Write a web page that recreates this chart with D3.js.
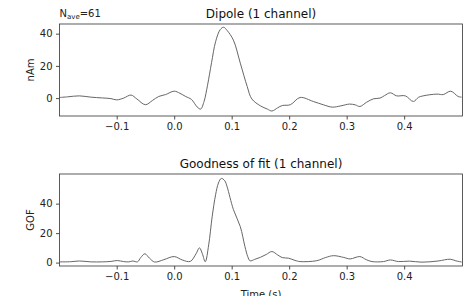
<!DOCTYPE html>
<html><head><meta charset="utf-8">
<script src="https://cdn.jsdelivr.net/npm/d3@7"></script>
<style>
html,body{margin:0;padding:0;background:#fff;}
svg{display:block;font-family:"DejaVu Sans",sans-serif;}
</style></head>
<body><svg id="c" width="474" height="296"></svg>
<script>
// ---- data ----
const dipoleTimes = [-0.199,-0.185,-0.165,-0.145,-0.125,-0.110,-0.100,-0.088,-0.075,-0.065,-0.050,-0.038,-0.027,-0.015,0.000,0.010,0.020,0.030,0.040,0.046,0.052,0.058,0.065,0.072,0.080,0.086,0.092,0.103,0.115,0.127,0.135,0.150,0.162,0.170,0.180,0.188,0.202,0.219,0.242,0.260,0.275,0.290,0.305,0.315,0.323,0.335,0.347,0.358,0.366,0.376,0.387,0.402,0.416,0.425,0.433,0.457,0.468,0.481,0.494,0.500];
const dipoleValues = [0.4,0.8,1.4,0.6,0.1,-0.3,-1.1,0.0,1.9,-0.5,-4.1,-1.5,1.0,2.2,4.3,3.0,1.0,-0.8,-5.5,-6.8,-2,8,22,35,42.5,44,42,36,21.7,7.2,-0.5,-4.8,-6.8,-8.0,-6.0,-4.6,-4.1,0.4,-2.1,-4.2,-5.6,-4.8,-3.7,-4.2,-5.2,-2.5,-0.4,0.0,1.6,3.3,1.4,1.4,-2.1,0.5,1.4,2.5,2.2,4.3,1.0,0.6];

const gofTimes = [-0.199,-0.180,-0.165,-0.145,-0.125,-0.110,-0.099,-0.088,-0.079,-0.072,-0.064,-0.058,-0.051,-0.043,-0.034,-0.018,0.000,0.014,0.028,0.038,0.044,0.049,0.054,0.060,0.066,0.072,0.077,0.082,0.088,0.092,0.103,0.115,0.123,0.128,0.132,0.140,0.150,0.160,0.170,0.180,0.188,0.199,0.210,0.219,0.248,0.263,0.277,0.295,0.306,0.323,0.334,0.344,0.364,0.376,0.390,0.409,0.431,0.459,0.480,0.490,0.500];
const gofValues = [0.5,0.6,1.1,0.5,0.5,0.8,1.4,0.7,0.5,1.1,0.5,3.5,6.0,3.0,0.4,2.0,4.1,1.8,0.8,6.0,10.0,6,0.6,12,31,46,54,57.1,55.5,51.5,36,24.4,11,4,1.2,2.2,3.6,5.5,7.5,5.2,3.4,3.0,1.5,0.7,1.3,3.4,4.7,3.5,2.5,4.1,2.0,0.7,0.7,1.8,0.7,1.0,0.3,1.1,2.3,1.2,0.4];

const xTicks = [-0.1,0.0,0.1,0.2,0.3,0.4];
const dipoleYTicks = [0,20,40];
const gofYTicks = [0,20,40];
const titles = ["Dipole (1 channel)", "Goodness of fit (1 channel)"];
const yLabels = ["nAm", "GOF"];
const xLabel = "Time (s)";
const nave = 61;

// ---- drawing ----
const svg = d3.select("#c");
const left = 59.5, right = 462.5;
const x = d3.scaleLinear().domain([-0.1995, 0.5015]).range([left, right]);

const panels = [
  {top:24, bottom:116, dom:[-11.1, 46], t:dipoleTimes, v:dipoleValues, yt:dipoleYTicks, title:titles[0], yl:yLabels[0]},
  {top:174, bottom:266, dom:[-2.3, 60.1], t:gofTimes, v:gofValues, yt:gofYTicks, title:titles[1], yl:yLabels[1]}
];

const fmt = d => d3.format(".1f")(d).replace("-", "\u2212");

panels.forEach((p, i) => {
  const y = d3.scaleLinear().domain(p.dom).range([p.bottom, p.top]);
  const g = svg.append("g");

  const clip = "clip" + i;
  svg.append("clipPath").attr("id", clip).append("rect")
    .attr("x", left).attr("y", p.top).attr("width", right-left).attr("height", p.bottom-p.top);

  const data = p.t.map((t, k) => [t, p.v[k]]);
  g.append("path").datum(data)
    .attr("clip-path", `url(#${clip})`)
    .attr("fill", "none").attr("stroke", "#666").attr("stroke-width", 1)
    .attr("d", d3.line().x(d => x(d[0])).y(d => y(d[1])).curve(d3.curveCatmullRom.alpha(0.5)));

  const xa = g.append("g").attr("transform", `translate(0,${p.bottom})`)
    .call(d3.axisBottom(x).tickValues(xTicks).tickFormat(fmt).tickSize(3.5).tickPadding(3.5));
  const ya = g.append("g").attr("transform", `translate(${left},0)`)
    .call(d3.axisLeft(y).tickValues(p.yt).tickFormat(d3.format("d")).tickSize(3.5).tickPadding(3.5));
  [xa, ya].forEach(a => {
    a.select(".domain").remove();
    a.selectAll("line").attr("stroke", "#222").attr("stroke-width", 0.8);
    a.selectAll("text").attr("font-size", 10).attr("fill", "#222").attr("font-family", "DejaVu Sans");
  });

  g.append("rect").attr("x", left).attr("y", p.top).attr("width", right-left).attr("height", p.bottom-p.top)
    .attr("fill", "none").attr("stroke", "#333").attr("stroke-width", 0.8);

  g.append("text").attr("x", (left+right)/2).attr("y", p.top - 6)
    .attr("text-anchor", "middle").attr("font-size", 12).attr("fill", "#111").text(p.title);

  g.append("text").attr("transform", `translate(34,${(p.top+p.bottom)/2}) rotate(-90)`)
    .attr("text-anchor", "middle").attr("font-size", 10).attr("fill", "#222").text(p.yl);
});

svg.append("text").attr("x", (left+right)/2).attr("y", 297.5)
  .attr("text-anchor", "middle").attr("font-size", 10).attr("fill", "#222").text(xLabel);

const nt = svg.append("text").attr("x", left).attr("y", 17).attr("font-size", 10).attr("fill", "#222");
nt.append("tspan").text("N");
nt.append("tspan").attr("font-size", 7).attr("dy", 1.5).text("ave");
nt.append("tspan").attr("dy", -1.5).text("=" + nave);
</script></body></html>
